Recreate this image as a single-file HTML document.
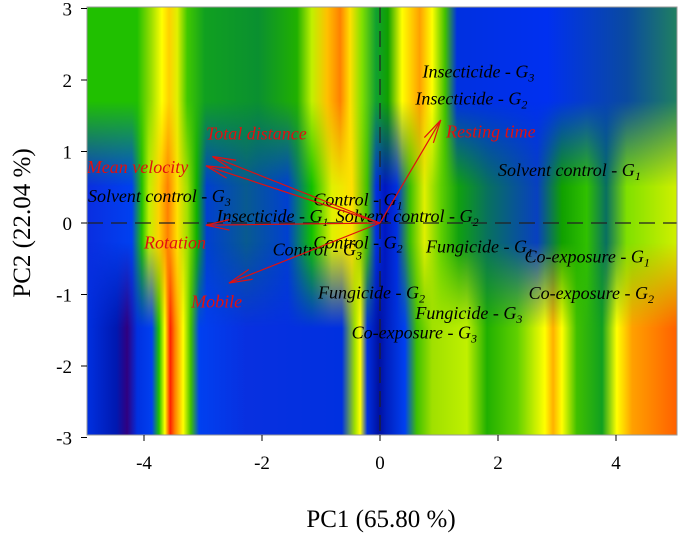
<!DOCTYPE html>
<html><head><meta charset="utf-8"><style>
body{margin:0;background:#fff;width:685px;height:534px;overflow:hidden}
svg text{font-family:"Liberation Serif",serif}
</style></head><body>
<svg id="chart" width="685" height="534" xmlns="http://www.w3.org/2000/svg">
<defs>
<linearGradient id="gTop" x1="0" x2="1" y1="0" y2="0">
<stop offset="0" stop-color="#20c000"/><stop offset="0.085" stop-color="#20c000"/><stop offset="0.11" stop-color="#a0e000"/><stop offset="0.127" stop-color="#ffff00"/><stop offset="0.139" stop-color="#ffd000"/><stop offset="0.153" stop-color="#e0f000"/><stop offset="0.17" stop-color="#40c800"/><stop offset="0.2" stop-color="#10a020"/><stop offset="0.29" stop-color="#0a9030"/><stop offset="0.356" stop-color="#20b000"/><stop offset="0.381" stop-color="#c0f000"/><stop offset="0.407" stop-color="#ffc000"/><stop offset="0.429" stop-color="#ff8000"/><stop offset="0.446" stop-color="#ffe000"/><stop offset="0.466" stop-color="#80e000"/><stop offset="0.49" stop-color="#10a030"/><stop offset="0.51" stop-color="#10a000"/><stop offset="0.534" stop-color="#ffff00"/><stop offset="0.564" stop-color="#ffa000"/><stop offset="0.585" stop-color="#ffff00"/><stop offset="0.607" stop-color="#40c000"/><stop offset="0.627" stop-color="#0030e0"/><stop offset="0.78" stop-color="#0030f0"/><stop offset="0.915" stop-color="#0a4aa0"/><stop offset="1" stop-color="#208060"/>
</linearGradient>
<linearGradient id="gMid" x1="0" x2="1" y1="0" y2="0">
<stop offset="0" stop-color="#0a2ee0"/><stop offset="0.076" stop-color="#0040f0"/><stop offset="0.093" stop-color="#20c000"/><stop offset="0.105" stop-color="#c0f000"/><stop offset="0.122" stop-color="#ffd000"/><stop offset="0.137" stop-color="#ff8000"/><stop offset="0.153" stop-color="#ffe000"/><stop offset="0.17" stop-color="#a0e000"/><stop offset="0.186" stop-color="#10b000"/><stop offset="0.203" stop-color="#0040d0"/><stop offset="0.27" stop-color="#085a90"/><stop offset="0.34" stop-color="#0040d0"/><stop offset="0.381" stop-color="#10c000"/><stop offset="0.415" stop-color="#e0f000"/><stop offset="0.449" stop-color="#ffe000"/><stop offset="0.475" stop-color="#40c000"/><stop offset="0.49" stop-color="#0030e0"/><stop offset="0.505" stop-color="#0018c0"/><stop offset="0.525" stop-color="#0030e0"/><stop offset="0.548" stop-color="#40c000"/><stop offset="0.572" stop-color="#e0f000"/><stop offset="0.6" stop-color="#60d000"/><stop offset="0.63" stop-color="#10a010"/><stop offset="0.68" stop-color="#087060"/><stop offset="0.763" stop-color="#0840c0"/><stop offset="0.805" stop-color="#10a000"/><stop offset="0.847" stop-color="#30c000"/><stop offset="0.88" stop-color="#087060"/><stop offset="0.915" stop-color="#80e000"/><stop offset="1" stop-color="#d0f000"/>
</linearGradient>
<linearGradient id="gBot" x1="0" x2="1" y1="0" y2="0">
<stop offset="0" stop-color="#0030e0"/><stop offset="0.05" stop-color="#0018b0"/><stop offset="0.068" stop-color="#300080"/><stop offset="0.085" stop-color="#0030e0"/><stop offset="0.11" stop-color="#0040f0"/><stop offset="0.122" stop-color="#20c000"/><stop offset="0.132" stop-color="#ffff00"/><stop offset="0.141" stop-color="#ff2000"/><stop offset="0.149" stop-color="#ff8000"/><stop offset="0.163" stop-color="#ffff00"/><stop offset="0.176" stop-color="#40c000"/><stop offset="0.19" stop-color="#0040f0"/><stop offset="0.27" stop-color="#0830e0"/><stop offset="0.432" stop-color="#0030e0"/><stop offset="0.454" stop-color="#a0e000"/><stop offset="0.463" stop-color="#ffff00"/><stop offset="0.475" stop-color="#0030e0"/><stop offset="0.495" stop-color="#0010a0"/><stop offset="0.508" stop-color="#0020c0"/><stop offset="0.539" stop-color="#0040f0"/><stop offset="0.559" stop-color="#40c000"/><stop offset="0.585" stop-color="#a0e000"/><stop offset="0.644" stop-color="#c0f000"/><stop offset="0.678" stop-color="#20b000"/><stop offset="0.729" stop-color="#60d000"/><stop offset="0.776" stop-color="#ffff00"/><stop offset="0.79" stop-color="#ffb000"/><stop offset="0.805" stop-color="#ffff00"/><stop offset="0.83" stop-color="#40c000"/><stop offset="0.873" stop-color="#10a020"/><stop offset="0.898" stop-color="#ffff00"/><stop offset="0.924" stop-color="#ffa000"/><stop offset="1" stop-color="#ff6000"/>
</linearGradient>
<linearGradient id="mTopG" x1="0" x2="0" y1="0" y2="1"><stop offset="0.22" stop-color="#fff"/><stop offset="0.42" stop-color="#000"/></linearGradient>
<linearGradient id="mBotG" x1="0" x2="0" y1="0" y2="1"><stop offset="0.55" stop-color="#000"/><stop offset="0.75" stop-color="#fff"/></linearGradient>
<mask id="mTop" maskContentUnits="objectBoundingBox"><rect width="1" height="1" fill="url(#mTopG)"/></mask>
<mask id="mBot" maskContentUnits="objectBoundingBox"><rect width="1" height="1" fill="url(#mBotG)"/></mask>
</defs>
<g id="bg">
<rect x="87" y="7" width="590" height="428" fill="url(#gMid)"/>
<rect x="87" y="7" width="590" height="428" fill="url(#gBot)" mask="url(#mBot)"/>
<rect x="87" y="7" width="590" height="428" fill="url(#gTop)" mask="url(#mTop)"/>
</g>
<g id="layer"></g>
</svg>
<script>
const xTicks=[-4,-2,0,2,4];
const yTicks=[3,2,1,0,-1,-2,-3];
const varNames=["Resting time","Total distance","Mean velocity","Rotation","Mobile"];
const varX=[1.03,-2.84,-2.95,-2.95,-2.56];
const varY=[1.44,0.93,0.80,-0.03,-0.84];
const varLX=[1.12,-2.95,-4.97,-4.0,-3.2];
const varLY=[1.28,1.25,0.78,-0.27,-1.1];
const grpNames=["Insecticide - G|3","Insecticide - G|2","Solvent control - G|1","Control - G|1","Solvent control - G|3","Insecticide - G|1","Solvent control - G|2","Control - G|3","Control - G|2","Fungicide - G|1","Co-exposure - G|1","Fungicide - G|2","Co-exposure - G|2","Fungicide - G|3","Co-exposure - G|3"];
const grpX=[0.72,0.6,2.0,-1.13,-4.95,-2.77,-0.75,-1.82,-1.13,0.78,2.45,-1.05,2.52,0.6,-0.48];
const grpY=[2.12,1.74,0.74,0.33,0.38,0.10,0.10,-0.37,-0.27,-0.33,-0.47,-0.97,-0.98,-1.26,-1.53];
const X=v=>380+v*59, Y=v=>223-v*71.5;
const NS="http://www.w3.org/2000/svg", L=document.getElementById('layer');
function mk(t,a,p){const e=document.createElementNS(NS,t);for(const k in a)e.setAttribute(k,a[k]);(p||L).appendChild(e);return e;}
let hz=mk('line',{x1:87,x2:677,y1:Y(0),y2:Y(0),stroke:'#222','stroke-width':1.2,'stroke-dasharray':'16,8'});


let vz=mk('line',{x1:X(0),x2:X(0),y1:7,y2:435,stroke:'#222','stroke-width':1.2,'stroke-dasharray':'16,8'});


grpNames.forEach((n,i)=>{const [a,b]=n.split('|');
 const t=mk('text',{x:X(grpX[i]),y:Y(grpY[i])+6,'font-size':18,'font-style':'italic',fill:'#000'});
 
 
 t.textContent=a;const s=mk('tspan',{dy:4,'font-size':12},t);s.textContent=b;});
varNames.forEach((n,i)=>{const x2=X(varX[i]),y2=Y(varY[i]),x1=X(0),y1=Y(0);
 const g=mk('g',{});
 
 
 mk('line',{x1,y1,x2,y2,stroke:'#e01010','stroke-width':1.2},g);
 const ang=Math.atan2(y1-y2,x1-x2),h=24,w=0.22;
 const p=`${x2+h*Math.cos(ang+w)},${y2+h*Math.sin(ang+w)} ${x2},${y2} ${x2+h*Math.cos(ang-w)},${y2+h*Math.sin(ang-w)}`;
 mk('polyline',{points:p,fill:'none',stroke:'#e01010','stroke-width':1.2},g);
 const t=mk('text',{x:X(varLX[i]),y:Y(varLY[i])+6,'font-size':18,'font-style':'italic',fill:'#e01010'});
 
 
 t.textContent=n;});
let fr=mk('rect',{x:87,y:7,width:590,height:428,fill:'none',stroke:'#999','stroke-width':1});


xTicks.forEach(v=>{mk('line',{x1:X(v),x2:X(v),y1:435,y2:441,stroke:'#000'});
 const t=mk('text',{x:X(v),y:469,'font-size':19,'text-anchor':'middle'});
 
 
 t.textContent=v;});
yTicks.forEach(v=>{mk('line',{x1:81,x2:87,y1:Y(v),y2:Y(v),stroke:'#000'});
 const t=mk('text',{x:72,y:Y(v)+7,'font-size':19,'text-anchor':'end'});
 
 
 t.textContent=v;});
let xt=mk('text',{x:381,y:527,'font-size':25,'text-anchor':'middle'});


xt.textContent='PC1 (65.80 %)';
let yt=mk('text',{x:0,y:0,'font-size':25,'text-anchor':'middle',transform:'translate(30,223) rotate(-90)'});


yt.textContent='PC2 (22.04 %)';
</script>
</body></html>
